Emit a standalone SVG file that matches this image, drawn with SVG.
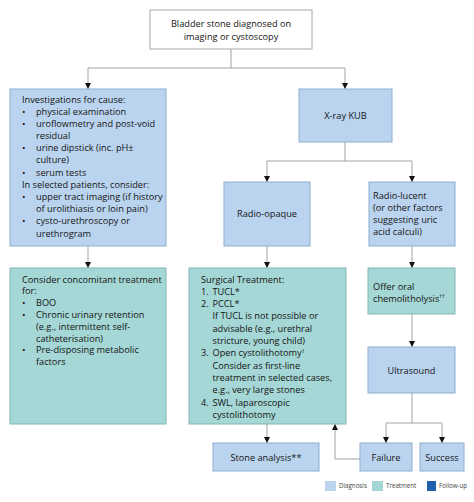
<svg xmlns="http://www.w3.org/2000/svg" width="474" height="502" viewBox="0 0 474 502">
<defs>
<marker id="ah" markerWidth="6" markerHeight="6" refX="6" refY="3" orient="auto" markerUnits="userSpaceOnUse">
<path d="M0,0 L6,3 L0,6 z" fill="#111"/>
</marker>
<style>
text{font-family:"Open Sans","Liberation Sans",sans-serif;font-size:9.2px;fill:#141414}
.dx{fill:#bad4ef;stroke:#8eaecd;stroke-width:1}
.tx{fill:#a4d7d5;stroke:#84b6b3;stroke-width:1}
.st{fill:#fff;stroke:#a8a8a8;stroke-width:1}
.c{fill:none;stroke:#a3a3a3;stroke-width:1}
.ca{fill:none;stroke:#a3a3a3;stroke-width:1;marker-end:url(#ah)}
.m{text-anchor:middle}
.lg{font-size:6.2px;fill:#444}
.sup{font-size:5.5px}
</style>
</defs>
<rect width="474" height="502" fill="#fff"/>

<g id="connectors">
<path class="c" d="M231,49 V68 M88,68 H345"/>
<path class="ca" d="M88,68 V89"/>
<path class="ca" d="M345,68 V89"/>
<path class="ca" d="M88,246 V268"/>
<path class="c" d="M345,142 V161 M267,161 H412"/>
<path class="ca" d="M267,161 V182"/>
<path class="ca" d="M412,161 V182"/>
<path class="ca" d="M267,246 V268"/>
<path class="ca" d="M412,246 V268"/>
<path class="ca" d="M412,314 V347"/>
<path class="c" d="M412,393 V423 M386,423 H442"/>
<path class="ca" d="M386,423 V443"/>
<path class="ca" d="M442,423 V443"/>
<path class="ca" d="M267,424 V443"/>
<path class="ca" d="M360,459 H335 V424"/>
</g>

<g id="start">
<rect class="st" x="150" y="10" width="162" height="39"/>
<text class="m" x="231" y="27">Bladder stone diagnosed on</text>
<text class="m" x="231" y="39.5">imaging or cystoscopy</text>
</g>

<g id="investigations">
<rect class="dx" x="10" y="89" width="156" height="157"/>
<text x="22" y="102.5">Investigations for cause:</text>
<text x="22" y="114.7">•</text><text x="36" y="114.7">physical examination</text>
<text x="22" y="126.9">•</text><text x="36" y="126.9">uroflowmetry and post-void</text>
<text x="36" y="139">residual</text>
<text x="22" y="151.2">•</text><text x="36" y="151.2">urine dipstick (inc. pH±</text>
<text x="36" y="163.4">culture)</text>
<text x="22" y="175.6">•</text><text x="36" y="175.6">serum tests</text>
<text x="22" y="187.8">In selected patients, consider:</text>
<text x="22" y="200">•</text><text x="36" y="200">upper tract imaging (if history</text>
<text x="36" y="212.2">of urolithiasis or loin pain)</text>
<text x="22" y="224.4">•</text><text x="36" y="224.4">cysto-urethroscopy or</text>
<text x="36" y="236.6">urethrogram</text>
</g>

<g id="xray">
<rect class="dx" x="299" y="89" width="93" height="53"/>
<text class="m" x="345.5" y="118.5">X-ray KUB</text>
</g>

<g id="opaque">
<rect class="dx" x="224" y="182" width="86" height="64"/>
<text class="m" x="267" y="216.5">Radio-opaque</text>
</g>

<g id="lucent">
<rect class="dx" x="369" y="182" width="86" height="64"/>
<text x="373" y="198.5">Radio-lucent</text>
<text x="373" y="210.8">(or other factors</text>
<text x="373" y="223.1">suggesting uric</text>
<text x="373" y="235.4">acid calculi)</text>
</g>

<g id="concomitant">
<rect class="tx" x="10" y="268" width="156" height="156"/>
<text x="22" y="282.5">Consider concomitant treatment</text>
<text x="22" y="294.3">for:</text>
<text x="22" y="306.1">•</text><text x="36" y="306.1">BOO</text>
<text x="22" y="317.9">•</text><text x="36" y="317.9">Chronic urinary retention</text>
<text x="36" y="329.7">(e.g., intermittent self-</text>
<text x="36" y="341.5">catheterisation)</text>
<text x="22" y="353.3">•</text><text x="36" y="353.3">Pre-disposing metabolic</text>
<text x="36" y="365.1">factors</text>
</g>

<g id="surgical">
<rect class="tx" x="189" y="268" width="157" height="156"/>
<text x="201" y="282.5">Surgical Treatment:</text>
<text x="201" y="294.8">1.</text><text x="212.5" y="294.8">TUCL*</text>
<text x="201" y="307.1">2.</text><text x="212.5" y="307.1">PCCL*</text>
<text x="212.5" y="319.4">If TUCL is not possible or</text>
<text x="212.5" y="331.7">advisable (e.g., urethral</text>
<text x="212.5" y="344">stricture, young child)</text>
<text x="201" y="356.3">3.</text><text x="212.5" y="356.3">Open cystolithotomy<tspan class="sup" dy="-3.5">†</tspan></text>
<text x="212.5" y="368.6">Consider as first-line</text>
<text x="212.5" y="380.9">treatment in selected cases,</text>
<text x="212.5" y="393.2">e.g., very large stones</text>
<text x="201" y="405.5">4.</text><text x="212.5" y="405.5">SWL, laparoscopic</text>
<text x="212.5" y="417.8">cystolithotomy</text>
</g>

<g id="chemo">
<rect class="tx" x="368" y="268" width="87" height="46"/>
<text x="373" y="289.5">Offer oral</text>
<text x="373" y="301.5">chemolitholysis<tspan class="sup" dy="-3.5">††</tspan></text>
</g>

<g id="ultrasound">
<rect class="dx" x="368" y="347" width="87" height="46"/>
<text class="m" x="411.5" y="373.5">Ultrasound</text>
</g>

<g id="stone">
<rect class="dx" x="213" y="443" width="106" height="28"/>
<text class="m" x="266" y="460.5">Stone analysis**</text>
</g>

<g id="failure">
<rect class="dx" x="360" y="443" width="52" height="28"/>
<text class="m" x="386" y="460.5">Failure</text>
</g>

<g id="success">
<rect class="dx" x="420" y="443" width="44" height="28"/>
<text class="m" x="442" y="460.5">Success</text>
</g>

<g id="legend">
<rect x="325" y="481" width="11" height="10" fill="#bad4ef"/>
<text class="lg" x="339" y="488">Diagnosis</text>
<rect x="372" y="481" width="11" height="10" fill="#a4d7d5"/>
<text class="lg" x="386" y="488">Treatment</text>
<rect x="427" y="481" width="9" height="10" fill="#2160ad"/>
<text class="lg" x="439" y="488">Follow-up</text>
</g>
</svg>
